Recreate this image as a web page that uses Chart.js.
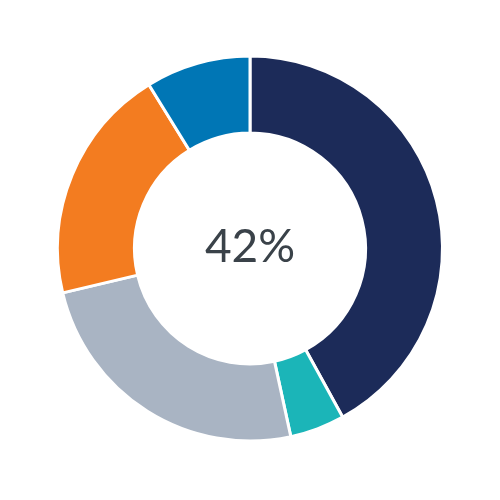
<!DOCTYPE html>
<html>
<head>
<meta charset="utf-8">
<script src="https://cdn.jsdelivr.net/npm/chart.js@4"></script>
<style>
html,body{margin:0;padding:0;background:#fff;}
#wrap{width:500px;height:500px;}
</style>
</head>
<body>
<div id="wrap"><canvas id="c" width="500" height="500"></canvas></div>
<script>
const categories = ["Navy", "Teal", "Grey", "Orange", "Blue"];
const values = [42, 4.6, 24.7, 19.9, 8.8];
const colors = ["#1c2b59", "#1bb5b8", "#a9b4c3", "#f37c20", "#0076b5"];
const centerLabel = "42%";

const centerText = {
  id: 'centerText',
  afterDraw(chart) {
    const meta = chart.getDatasetMeta(0);
    const arc = meta.data[0];
    const ctx = chart.ctx;
    ctx.save();
    ctx.font = '400 46px Lato';
    ctx.fillStyle = '#3a4249';
    ctx.textAlign = 'center';
    ctx.textBaseline = 'middle';
    ctx.fillText(centerLabel, arc.x, arc.y - 1);
    ctx.restore();
  }
};

new Chart(document.getElementById('c'), {
  type: 'doughnut',
  data: {
    labels: categories,
    datasets: [{
      data: values,
      backgroundColor: colors,
      borderColor: '#ffffff',
      borderWidth: 3,
      hoverOffset: 0
    }]
  },
  options: {
    responsive: false,
    animation: false,
    cutout: '60%',
    layout: { padding: { top: 54, bottom: 57, left: 56, right: 56 } },
    plugins: { legend: { display: false }, tooltip: { enabled: false } }
  },
  plugins: [centerText]
});
</script>
</body>
</html>
